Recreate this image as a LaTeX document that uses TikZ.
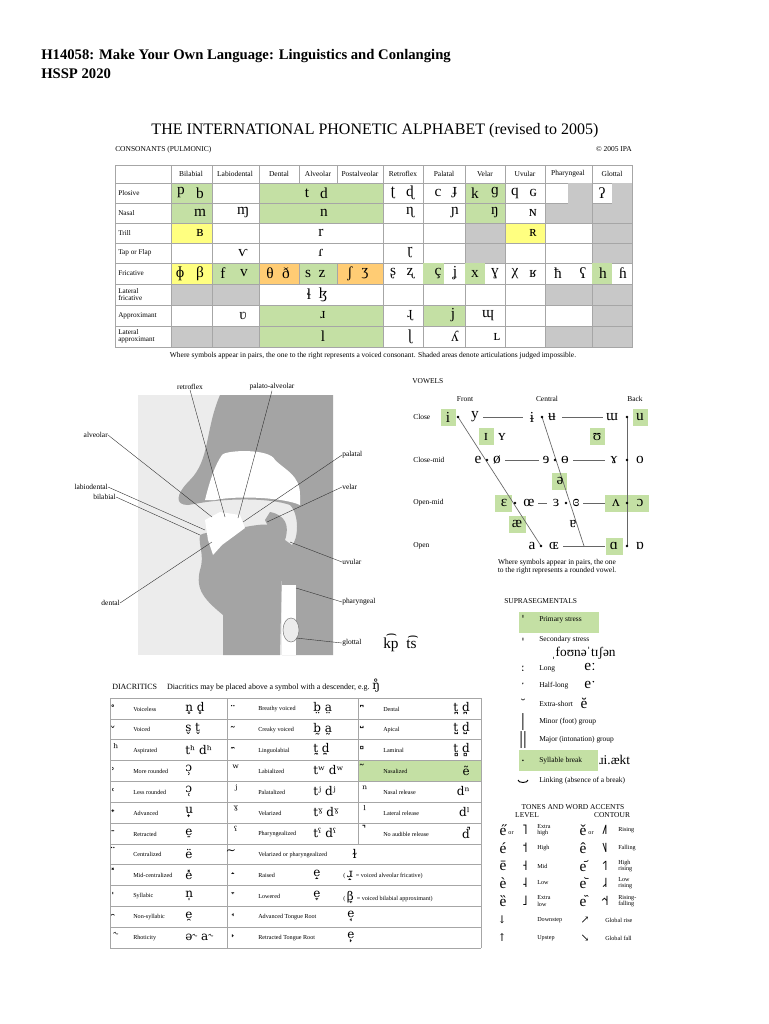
\documentclass[tikz,border=0pt]{standalone}
\usepackage{fontspec}
\setmainfont{Liberation Serif}
\newfontfamily\ipa{Liberation Serif}
\newfontfamily\ipb{DejaVu Serif}
\definecolor{ipagreen}{HTML}{C4E0A4}
\definecolor{ipayellow}{HTML}{FFFF80}
\definecolor{ipaorange}{HTML}{FFCC74}
\definecolor{ipagrey}{HTML}{C8C8C8}
\definecolor{headdark}{HTML}{A4A4A4}
\definecolor{headlight}{HTML}{ECECEC}
\tikzset{
  lab/.style={font=\fontsize{5.6}{6}\selectfont,inner sep=0pt},
  small/.style={font=\fontsize{4.6}{5}\selectfont,inner sep=0pt,align=left},
  sym/.style={font=\ipa\fontsize{11.5}{12}\selectfont,inner sep=0pt},
  dsym/.style={font=\ipa\fontsize{10}{11}\selectfont,inner sep=0pt},
  dia/.style={font=\ipb\fontsize{9}{10}\selectfont,inner sep=0pt},
  cell/.style={draw=black!35,line width=0.35pt},
  lead/.style={draw=black!80,line width=0.3pt},
  vline/.style={draw=black!60,line width=0.5pt},
}
\newcommand\crow[3]{\foreach \a/\b/\f in {#3} \draw[cell,fill=\f] (\a,#1) rectangle (\b,#2);}
\begin{document}
\begin{tikzpicture}[x=0.75pt,y=-0.75pt]
\useasboundingbox[fill=white] (0,0) rectangle (768,1024);
% heading
\node[anchor=base west,font=\bfseries\fontsize{11}{13}\selectfont,inner sep=0pt] (head1) at (41,60) {H14058: Make Your Own Language: Linguistics and Conlanging};
\node[anchor=base west,font=\bfseries\fontsize{11}{13}\selectfont,inner sep=0pt] (head2) at (41,79) {HSSP 2020};
\node[anchor=base,font=\fontsize{12}{13}\selectfont,inner sep=0pt] (title) at (375,134) {THE INTERNATIONAL PHONETIC ALPHABET (revised to 2005)};
\node[lab,anchor=base west] (cons) at (115,151) {CONSONANTS (PULMONIC)};
\node[lab,anchor=base east] (copy) at (632,151) {© 2005 IPA};

% consonant chart
\crow{165}{183}{115/171/white,171/212/white,212/259/white,259/299/white,299/337/white,337/383/white,383/423/white,423/465/white,465/505/white,505/545/white,545/592/white,592/632/white}
\crow{183}{203}{115/171/white,171/212/ipagreen,212/259/white,259/383/ipagreen,383/423/white,423/465/white,465/505/ipagreen,505/545/white,545/592/white,592/632/white}
\crow{203}{223}{115/171/white,171/212/ipagreen,212/259/white,259/383/ipagreen,383/423/white,423/465/white,465/505/ipagreen,505/545/white,545/592/ipagrey,592/632/ipagrey}
\crow{223}{243}{115/171/white,171/212/ipayellow,212/259/white,259/383/white,383/423/white,423/465/white,465/505/ipagrey,505/545/ipayellow,545/592/white,592/632/ipagrey}
\crow{243}{263}{115/171/white,171/212/white,212/259/white,259/383/white,383/423/white,423/465/white,465/505/ipagrey,505/545/white,545/592/white,592/632/ipagrey}
\crow{263}{284}{115/171/white,171/212/ipayellow,212/259/ipagreen,259/299/ipaorange,299/337/ipagreen,337/383/ipaorange,383/423/white,423/465/white,465/505/white,505/545/white,545/592/white,592/632/white}
\crow{284}{305}{115/171/white,171/212/ipagrey,212/259/ipagrey,259/383/white,383/423/white,423/465/white,465/505/white,505/545/white,545/592/ipagrey,592/632/ipagrey}
\crow{305}{326}{115/171/white,171/212/white,212/259/white,259/383/ipagreen,383/423/white,423/465/ipagreen,465/505/white,505/545/white,545/592/white,592/632/ipagrey}
\crow{326}{347}{115/171/white,171/212/ipagrey,212/259/ipagrey,259/383/ipagreen,383/423/white,423/465/white,465/505/white,505/545/white,545/592/ipagrey,592/632/ipagrey}
% half cells
\foreach \a/\b/\y/\f in {568/591.7/183/ipagrey,612/631.7/183/ipagrey,423.3/444/263/ipagreen,465.3/485/263/ipagreen,592.3/612/263/ipagreen}
  \fill[\f] (\a,\y+0.3) rectangle (\b,\y+20.7);
% column and row names
\foreach \x/\t [count=\i] in {191/Bilabial,235/Labiodental,279/Dental,318/Alveolar,360/Postalveolar,403/Retroflex,444/Palatal,485/Velar,525/Uvular,568/Pharyngeal,612/Glottal}
  \node[lab] (col\i) at (\x,174) {\t};
\foreach \y/\t [count=\i] in {193/Plosive,213/Nasal,233/Trill,253/Tap or Flap,273.5/Fricative,294.5/Lateral\\fricative,315.5/Approximant,336.5/Lateral\\approximant}
  \node[lab,anchor=west,align=left,font=\fontsize{5.4}{5.6}\selectfont] (row\i) at (118,\y) {\t};
% symbols
\foreach \x/\s [count=\i] in {181/p,200/b,307/t,324/d,393/ʈ,410/ɖ,438/c,455/ɟ,475/k,495/ɡ,515/q,533/ɢ,602/ʔ}
  \node[sym] (plo\i) at (\x,193) {\s};
\foreach \x/\s [count=\i] in {200/m,243/ɱ,324/n,410/ɳ,455/ɲ,495/ŋ,533/ɴ}
  \node[sym] (nas\i) at (\x,213) {\s};
\foreach \x/\s [count=\i] in {200/ʙ,321/r,533/ʀ}
  \node[sym] (tri\i) at (\x,233) {\s};
\foreach \x/\s [count=\i] in {243/ⱱ,321/ɾ,410/ɽ}
  \node[sym] (tap\i) at (\x,253) {\s};
\foreach \x/\s [count=\i] in {180/ɸ,200/β,223/f,244/v,270/θ,286/ð,308/s,322/z,350/ʃ,365/ʒ,393/ʂ,410/ʐ,438/ç,455/ʝ,475/x,495/ɣ,515/χ,533/ʁ,558/ħ,583/ʕ,603/h,623/ɦ}
  \node[sym] (fri\i) at (\x,273.5) {\s};
\foreach \x/\s [count=\i] in {309/ɬ,323/ɮ}
  \node[sym] (lfr\i) at (\x,294.5) {\s};
\foreach \x/\s [count=\i] in {243/ʋ,323/ɹ,410/ɻ,453/j,488/ɰ}
  \node[sym] (app\i) at (\x,315.5) {\s};
\foreach \x/\s [count=\i] in {323/l,410/ɭ,455/ʎ,497/ʟ}
  \node[sym] (lap\i) at (\x,336.5) {\s};
\node[lab,anchor=base] (note) at (373,357) {Where symbols appear in pairs, the one to the right represents a voiced consonant. Shaded areas denote articulations judged impossible.};

% head diagram
\fill[headlight] (138,395) rectangle (333,655);
\fill[headdark] (220,395) .. controls (205,430) and (210,460) .. (190,480)
  .. controls (175,495) and (175,505) .. (188,505) -- (200,503)
  .. controls (230,498) and (270,498) .. (290,505)
  .. controls (300,515) and (298,540) .. (292,545) -- (285,540)
  .. controls (290,525) and (285,515) .. (270,512)
  -- (265,520) .. controls (275,540) and (282,560) .. (282,580)
  -- (282,655) -- (333,655) -- (333,395) -- cycle;
\fill[white] (222,455) .. controls (225,450) and (270,448) .. (275,460)
  .. controls (285,470) and (300,475) .. (300,495) -- (300,505)
  .. controls (285,498) and (240,495) .. (215,500) -- (205,500)
  .. controls (210,480) and (215,465) .. (222,455) -- cycle;
\fill[headdark] (200,535) .. controls (210,530) and (215,535) .. (218,540)
  -- (240,528) .. controls (260,524) and (275,522) .. (280,530)
  -- (280,560) .. controls (285,558) and (287,562) .. (282,570)
  -- (280,655) -- (223,655) -- (223,615)
  .. controls (205,600) and (195,590) .. (200,570)
  .. controls (205,555) and (198,545) .. (200,535) -- cycle;
\fill[white] (282,585) rectangle (296,655);
\draw[black!50,fill=headlight] (291,630) ellipse (8 and 12);
\fill[white] (205,520) -- (220,512) -- (240,515) -- (245,528) -- (222,545) -- (213,555) -- (208,540) -- cycle;
\node[lab] (retro) at (190,387) {retroflex};
\node[lab] (palalv) at (272,387) {palato-alveolar};
\node[lab,anchor=east] (alv) at (108,435) {alveolar};
\node[lab,anchor=east] (labd) at (108,487) {labiodental};
\node[lab,anchor=east] (bil) at (116,497) {bilabial};
\node[lab,anchor=east] (dent) at (120,603) {dental};
\node[lab,anchor=west] (pal) at (342,455) {palatal};
\node[lab,anchor=west] (vel) at (342,487) {velar};
\node[lab,anchor=west] (uvu) at (342,562) {uvular};
\node[lab,anchor=west] (pha) at (342,602) {pharyngeal};
\node[lab,anchor=west] (glo) at (342,643) {glottal};
\draw[lead] (retro.south) -- (225,517);
\draw[lead] (palalv.south) -- (238,518);
\draw[lead] (alv.east) -- (212,517);
\draw[lead] (labd.east) -- (205,530);
\draw[lead] (bil.east) -- (200,535);
\draw[lead] (dent.east) -- (212,542);
\draw[lead] (pal.west) -- (243,522);
\draw[lead] (vel.west) -- (267,522);
\draw[lead] (uvu.west) -- (290,542);
\draw[lead] (pha.west) -- (296,588);
\draw[lead] (glo.west) -- (296,638);
\node[sym,anchor=west] (coart) at (383,643) {k͡p \ t͡s};

% vowels
\node[lab,anchor=base west] (vow) at (412,383) {VOWELS};
\node[lab] (front) at (465,399) {Front};
\node[lab] (central) at (547,399) {Central};
\node[lab] (back) at (635,399) {Back};
\node[lab,anchor=west] (close) at (413,417) {Close};
\node[lab,anchor=west] (closemid) at (413,460) {Close-mid};
\node[lab,anchor=west] (openmid) at (413,503) {Open-mid};
\node[lab,anchor=west] (open) at (413,546) {Open};
\foreach \x/\y/\w/\h in {441/409/15/17,479/428/15/17,590/428/15/17,552/473/15/17,495/495/17/17,605/495/44/17,509/516/17/17,606/538/17/17,633/409/15/17}
  \fill[ipagreen] (\x,\y) rectangle ++(\w,\h);
\coordinate (fc) at (458,417);
\coordinate (fo) at (541,546);
\coordinate (cc) at (542,417);
\coordinate (co) at (584,546);
\coordinate (bc) at (627,417);
\coordinate (bo) at (627,546);
\draw[vline] (fc) -- (fo);
\draw[vline] (cc) -- (co);
\draw[vline] (bc) -- (bo);
\draw[vline] (483,417) -- (523,417) (562,417) -- (603,417);
\draw[vline] (505,460) -- (539,460) (573,460) -- (605,460);
\draw[vline] (538,503) -- (547,503) (583,503) -- (605,503);
\draw[vline] (563,546) -- (605,546);
\foreach \x/\y in {458/417,542/417,627/417,487/460,555/460,627/460,515/503,566/503,627/503,541/546,627/546}
  \fill (\x,\y) circle (1.3);
\foreach \x/\y/\s [count=\i] in {448/417/i,475/417/y,532/417/ɨ,552/417/ʉ,612/417/ɯ,640/417/u,486/437/ɪ,502/437/ʏ,597/437/ʊ,
  478/460/e,497/460/ø,546/460/ɘ,565/460/ɵ,614/460/ɤ,640/460/o,560/481/ə,504/503/ɛ,529/503/œ,556/503/ɜ,576/503/ɞ,
  616/503/ʌ,640/503/ɔ,517/524/æ,573/524/ɐ,532/546/a,554/546/ɶ,614/546/ɑ,640/546/ɒ}
  \node[sym] (v\i) at (\x,\y) {\s};
\node[lab,align=center] (vnote) at (557,567) {Where symbols appear in pairs, the one\\to the right represents a rounded vowel.};

% suprasegmentals
\node[lab,anchor=base west] (supra) at (504,603) {SUPRASEGMENTALS};
\fill[ipagreen] (519,612) rectangle (599,633);
\fill[ipagreen] (519,750) rectangle (598,771);
\foreach \y/\m/\t [count=\i] in {620/ˈ/Primary stress,640/ˌ/Secondary stress,669/ː/Long,686/ˑ/Half-long,704/˘/Extra-short,761/./Syllable break}
  {\node[dia] (sm\i) at (523,\y) {\m};
   \node[lab,anchor=west] (st\i) at (539,\y) {\t};}
\node[sym,font=\ipa\fontsize{14}{14}\selectfont] (minor) at (523,722) {|};
\node[lab,anchor=west] (minort) at (539,722) {Minor (foot) group};
\node[sym,font=\ipa\fontsize{14}{14}\selectfont] (major) at (523,740) {||};
\node[lab,anchor=west] (majort) at (539,740) {Major (intonation) group};
\coordinate (link) at (523,780);
\draw[line width=0.7pt] (link) ++(-5,0) arc (180:0:5 and 2.5);
\node[lab,anchor=west] (linkt) at (539,781) {Linking (absence of a break)};
\node[dsym,anchor=west] (ex1) at (551,653) {ˌfoʊnəˈtɪʃən};
\node[sym] (ex2) at (590,667) {eː};
\node[sym] (ex3) at (590,685) {eˑ};
\node[sym] (ex4) at (584,703) {ĕ};
\node[dsym,anchor=west] (ex5) at (599,760) {ɹi.ækt};

% tones
\node[lab] (tones) at (573,807) {TONES AND WORD ACCENTS};
\node[lab] (level) at (527,815) {LEVEL};
\node[lab] (contour) at (612,815) {CONTOUR};
\foreach \y/\v/\l/\t [count=\i] in {830/e̋/˥/Extra\\high,848/é/˦/High,866/ē/˧/Mid,883/è/˨/Low,901/ȅ/˩/Extra\\low}
  {\node[sym] (lv\i) at (503,\y) {\v};
   \node[dsym] (ll\i) at (525,\y) {\l};
   \node[small,anchor=west] (lt\i) at (537,\y) {\t};}
\foreach \y/\v/\l/\t [count=\i] in {830/ě/˩˥/Rising,848/ê/˥˩/Falling,866/e᷄/˦˥/High\\rising,883/e᷅/˩˨/Low\\rising,901/e᷈/˧˦˧/Rising-\\falling}
  {\node[sym] (cv\i) at (583,\y) {\v};
   \node[dsym] (cl\i) at (605,\y) {\l};
   \node[small,anchor=west] (ct\i) at (618,\y) {\t};}
\node[small] (or1) at (511,833) {or};
\node[small] (or2) at (591,833) {or};
\node[font=\ipb\fontsize{8}{9}\selectfont,inner sep=0pt] (dstep) at (502,920) {↓};
\node[font=\ipb\fontsize{8}{9}\selectfont,inner sep=0pt] (ustep) at (502,938) {↑};
\node[small,anchor=west] (dst) at (537,920) {Downstep};
\node[small,anchor=west] (ust) at (537,938) {Upstep};
\node[font=\ipb\fontsize{8}{9}\selectfont,inner sep=0pt] (grise) at (585,920) {↗};
\node[font=\ipb\fontsize{8}{9}\selectfont,inner sep=0pt] (gfall) at (585,938) {↘};
\node[small,anchor=west] (grt) at (605,920) {Global rise};
\node[small,anchor=west] (gft) at (605,938) {Global fall};

% diacritics
\node[lab,anchor=base west,font=\fontsize{6}{7}\selectfont] (diac) at (112,689) {DIACRITICS\quad\ Diacritics may be placed above a symbol with a descender, e.g. {\ipb\fontsize{9}{10}\selectfont ŋ̊}};
\fill[ipagreen] (358,760.5) rectangle (481,781.3);
\foreach \k in {0,...,12} \draw[cell] (110,698+\k*20.83) -- (481,698+\k*20.83);
\draw[cell] (110,698) -- (110,948) (227,698) -- (227,948) (481,698) -- (481,948) (358,698) -- (358,843.8);
\foreach \m/\t/\e [count=\i] in {̥/Voiceless/n̥\ d̥,̬/Voiced/s̬\ t̬,ʰ/Aspirated/tʰ\ dʰ,̹/More rounded/ɔ̹,̜/Less rounded/ɔ̜,̟/Advanced/u̟,̠/Retracted/e̠,̈/Centralized/ë,̽/Mid-centralized/e̽,̩/Syllabic/n̩,̯/Non-syllabic/e̯,˞/Rhoticity/ə˞\ a˞}
  {\node[dia] (dm\i) at (114,706+\i*20.83-20.83) {\ \m};
   \node[small,anchor=west] (dt\i) at (133,709+\i*20.83-20.83) {\t};
   \node[dia,anchor=west] (de\i) at (185,708+\i*20.83-20.83) {\e};}
\foreach \m/\t [count=\i] in {̤/Breathy voiced,̰/Creaky voiced,̼/Linguolabial,ʷ/Labialized,ʲ/Palatalized,ˠ/Velarized,ˤ/Pharyngealized,̴/Velarized or pharyngealized,̝/Raised,̞/Lowered,̘/Advanced Tongue Root,̙/Retracted Tongue Root}
  {\node[dia] (em\i) at (234,706+\i*20.83-20.83) {\ \m};
   \node[small,anchor=west] (et\i) at (258,709+\i*20.83-20.83) {\t};}
\foreach \x/\e [count=\i] in {313/b̤\ a̤,313/b̰\ a̰,313/t̼\ d̼,313/tʷ\ dʷ,313/tʲ\ dʲ,313/tˠ\ dˠ,313/tˤ\ dˤ,352/ɫ,313/e̝,313/e̞,347/e̘,347/e̙}
  \node[dia,anchor=west] (ee\i) at (\x,708+\i*20.83-20.83) {\e};
\node[small,anchor=west] (raisex) at (343,876) {( {\ipb\fontsize{9}{10}\selectfont ɹ̝} \ = voiced alveolar fricative)};
\node[small,anchor=west] (lowerx) at (343,897) {( {\ipb\fontsize{9}{10}\selectfont β̞} \ = voiced bilabial approximant)};
\foreach \m/\t/\e [count=\i] in {̪/Dental/t̪\ d̪,̺/Apical/t̺\ d̺,̻/Laminal/t̻\ d̻,̃/Nasalized/ẽ,ⁿ/Nasal release/dⁿ,ˡ/Lateral release/dˡ,̚/No audible release/d̚}
  {\node[dia] (fm\i) at (363,706+\i*20.83-20.83) {\ \m};
   \node[small,anchor=west] (ft\i) at (383,709+\i*20.83-20.83) {\t};
   \node[dia,anchor=east] (fe\i) at (470,708+\i*20.83-20.83) {\e};}
\end{tikzpicture}
\end{document}
